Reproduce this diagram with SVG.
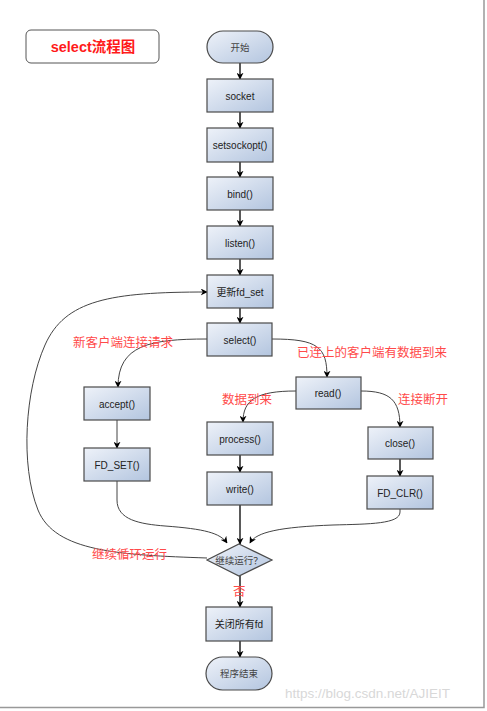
<svg xmlns="http://www.w3.org/2000/svg" width="487" height="711" viewBox="0 0 487 711">
<defs>
<linearGradient id="g" x1="0" y1="0" x2="1" y2="1">
<stop offset="0" stop-color="#eef2f9"/>
<stop offset="1" stop-color="#b3c5df"/>
</linearGradient>
<marker id="ah" viewBox="0 0 10 10" refX="9" refY="5" markerWidth="7" markerHeight="7" markerUnits="userSpaceOnUse" orient="auto">
<path d="M0,0 L10,5 L0,10 L3,5 z" fill="#000"/>
</marker>
</defs>
<style>
.box{fill:url(#g);stroke:#4a4a4a;stroke-width:1.2}
.t{font-family:"Liberation Sans","Noto Sans CJK SC",sans-serif;font-size:10px;fill:#222;text-anchor:middle;dominant-baseline:central}
.c{font-family:"Noto Sans CJK SC",sans-serif;font-size:9.5px;fill:#444;text-anchor:middle;dominant-baseline:central}
.lab{font-family:"Noto Sans CJK SC",sans-serif;font-size:12.5px;fill:#ff4a4a;dominant-baseline:central}
.s{fill:none;stroke:#000;stroke-width:1.3;marker-end:url(#ah)}
.cv{fill:none;stroke:#444;stroke-width:1;marker-end:url(#ah)}
</style>
<rect width="487" height="711" fill="#fff"/>
<path d="M484,0 L484,707.5 L0,707.5" fill="none" stroke="#999" stroke-width="1.5"/>
<g id="title">
<rect x="26" y="30" width="133" height="33" rx="5" fill="#fff" stroke="#555" stroke-width="1"/>
<text x="93" y="47" text-anchor="middle" dominant-baseline="central" font-family="Liberation Sans,'Noto Sans CJK SC',sans-serif" font-size="14.5" font-weight="bold" fill="#ff1a1a">select流程图</text>
</g>
<g id="connectors">
<path class="s" d="M240,63 L240,79"/>
<path class="s" d="M240,112 L240,128"/>
<path class="s" d="M240,162 L240,177"/>
<path class="s" d="M240,210 L240,226"/>
<path class="s" d="M240,259 L240,275"/>
<path class="s" d="M240,308 L240,323"/>
<path class="cv" d="M207,339 C150,339 118,345 118,387"/>
<path class="cv" d="M272,339 C318,339 327,347 327,377"/>
<path class="cv" d="M296,391 C256,391 243,400 243,422"/>
<path class="cv" d="M361,391 C390,391 400,400 400,427"/>
<path class="cv" d="M117,420 L117,448"/>
<path class="s" d="M240,455 L240,472"/>
<path class="s" d="M400,459 L400,476"/>
<path class="cv" d="M117,481 L117,500 C117,520 140,524 165,526 C205,529 220,533 227,543"/>
<path class="s" d="M240,505 L240,544"/>
<path class="cv" d="M400,509 L400,512 C400,524 370,524 333,525 C280,527 256,532 250,543"/>
<path class="s" d="M240,576 L240,607"/>
<path class="s" d="M240,641 L240,657"/>
<path class="cv" d="M207,558 C120,555 55,552 38,510 C20,465 25,390 45,345 C65,300 110,292 207,292"/>
</g>
<g id="start"><rect class="box" x="207" y="31" width="66" height="32" rx="16"/><text class="c" x="240" y="47">开始</text></g>
<g id="socket"><rect class="box" x="207" y="79" width="66" height="33"/><text class="t" x="240" y="96">socket</text></g>
<g id="setsockopt"><rect class="box" x="207" y="128" width="66" height="34"/><text class="t" x="240" y="145">setsockopt()</text></g>
<g id="bind"><rect class="box" x="207" y="177" width="66" height="33"/><text class="t" x="240" y="194">bind()</text></g>
<g id="listen"><rect class="box" x="207" y="226" width="66" height="33"/><text class="t" x="240" y="243">listen()</text></g>
<g id="fdset"><rect class="box" x="207" y="275" width="66" height="33"/><text class="t" x="240" y="292">更新fd_set</text></g>
<g id="select"><rect class="box" x="207" y="323" width="65" height="33"/><text class="t" x="240" y="340">select()</text></g>
<g id="read"><rect class="box" x="296" y="377" width="65" height="32"/><text class="t" x="328" y="393">read()</text></g>
<g id="accept"><rect class="box" x="84" y="387" width="66" height="33"/><text class="t" x="117" y="404">accept()</text></g>
<g id="fd_set"><rect class="box" x="84" y="448" width="66" height="33"/><text class="t" x="117" y="465">FD_SET()</text></g>
<g id="process"><rect class="box" x="207" y="422" width="66" height="33"/><text class="t" x="240" y="439">process()</text></g>
<g id="write"><rect class="box" x="207" y="472" width="65" height="33"/><text class="t" x="240" y="489">write()</text></g>
<g id="close"><rect class="box" x="368" y="427" width="65" height="32"/><text class="t" x="400" y="443">close()</text></g>
<g id="fd_clr"><rect class="box" x="367" y="476" width="66" height="33"/><text class="t" x="400" y="493">FD_CLR()</text></g>
<g id="decision"><polygon class="box" points="239,544 272,560 239,576 207,560"/><text class="c" x="239" y="560">继续运行？</text></g>
<g id="closeall"><rect class="box" x="206" y="607" width="66" height="34"/><text class="t" x="239" y="624">关闭所有fd</text></g>
<g id="end"><rect class="box" x="206" y="657" width="66" height="33" rx="16.5"/><text class="c" x="239" y="673">程序结束</text></g>
<g id="labels">
<text class="lab" x="73" y="341">新客户端连接请求</text>
<text class="lab" x="297" y="351">已连上的客户端有数据到来</text>
<text class="lab" x="222" y="398">数据到来</text>
<text class="lab" x="398" y="398">连接断开</text>
<text class="lab" x="92" y="553">继续循环运行</text>
<text class="lab" x="233" y="590">否</text>
</g>
<text x="285" y="693" dominant-baseline="central" font-family="Liberation Sans,sans-serif" font-size="13.5" fill="#d8d8d8">https://blog.csdn.net/AJIEIT</text>
</svg>
